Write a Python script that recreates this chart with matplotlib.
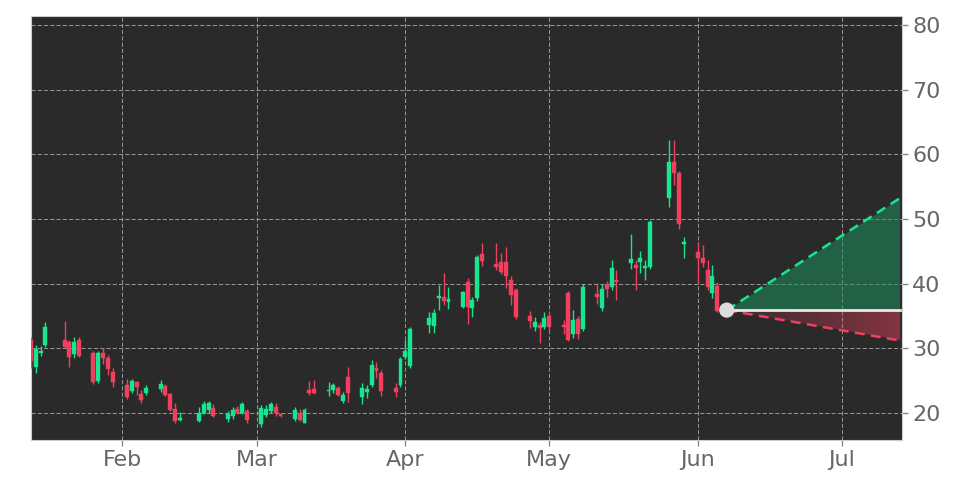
import matplotlib
matplotlib.use("Agg")
import matplotlib.pyplot as plt
import matplotlib.dates as mdates
from matplotlib.patches import Polygon
from matplotlib.colors import to_rgb
import numpy as np
import pandas as pd

dates = ["2015-01-13","2015-01-14","2015-01-15","2015-01-16",
         "2015-01-20","2015-01-21","2015-01-22","2015-01-23",
         "2015-01-26","2015-01-27","2015-01-28","2015-01-29","2015-01-30",
         "2015-02-02","2015-02-03","2015-02-04","2015-02-05","2015-02-06",
         "2015-02-09","2015-02-10","2015-02-11","2015-02-12","2015-02-13",
         "2015-02-17","2015-02-18","2015-02-19","2015-02-20",
         "2015-02-23","2015-02-24","2015-02-25","2015-02-26","2015-02-27",
         "2015-03-02","2015-03-03","2015-03-04","2015-03-05","2015-03-06",
         "2015-03-09","2015-03-10","2015-03-11","2015-03-12","2015-03-13",
         "2015-03-16","2015-03-17","2015-03-18","2015-03-19","2015-03-20",
         "2015-03-23","2015-03-24","2015-03-25","2015-03-26","2015-03-27",
         "2015-03-30","2015-03-31","2015-04-01","2015-04-02",
         "2015-04-06","2015-04-07","2015-04-08","2015-04-09","2015-04-10",
         "2015-04-13","2015-04-14","2015-04-15","2015-04-16","2015-04-17",
         "2015-04-20","2015-04-21","2015-04-22","2015-04-23","2015-04-24",
         "2015-04-27","2015-04-28","2015-04-29","2015-04-30","2015-05-01",
         "2015-05-04","2015-05-05","2015-05-06","2015-05-07","2015-05-08",
         "2015-05-11","2015-05-12","2015-05-13","2015-05-14","2015-05-15",
         "2015-05-18","2015-05-19","2015-05-20","2015-05-21","2015-05-22",
         "2015-05-26","2015-05-27","2015-05-28","2015-05-29",
         "2015-06-01","2015-06-02","2015-06-03","2015-06-04","2015-06-05"]

opens = [31.3,27.1,29.3,30.5, 31.3,31.0,29.1,31.3, 29.3,25.0,29.3,28.5,26.3,
         24.3,23.4,24.8,22.9,23.1, 23.7,24.2,22.9,20.6,18.9, 18.7,20.0,20.4,20.8,
         19.1,19.5,20.6,20.0,20.3, 18.2,19.7,20.3,20.9,19.8, 19.1,20.0,18.5,23.6,23.7,
         23.4,23.6,23.9,21.8,25.6, 22.5,23.3,24.3,27.0,26.2, 23.9,24.3,28.7,27.3,
         33.6,33.4,37.8,37.9,37.2, 36.4,40.2,36.2,37.8,44.6, 43.0,43.3,43.3,40.6,39.0,
         35.0,33.3,33.6,33.3,35.0, 33.6,38.5,32.2,34.5,33.0, 38.4,36.2,39.9,39.5,40.6,
         43.2,42.9,43.4,42.4,42.6, 53.2,58.8,57.1,46.2, 44.9,44.0,42.1,38.5,39.6]
highs = [31.8,30.5,30.3,34.1, 34.2,31.3,31.8,31.8, 29.6,29.6,30.0,29.0,27.0,
         25.3,25.3,25.0,23.5,24.3, 25.1,24.5,23.0,21.5,20.2, 20.9,21.9,21.8,21.3,
         20.3,20.9,21.0,21.7,20.6, 21.2,21.2,21.7,21.5,20.0, 20.9,20.6,20.7,24.9,25.1,
         24.8,24.6,24.1,23.2,27.1, 24.6,24.3,28.2,27.9,26.6, 24.6,28.6,31.3,33.3,
         35.6,36.1,39.8,41.6,39.5, 38.9,40.9,38.0,44.4,46.3, 46.3,44.7,45.7,41.2,39.3,
         35.7,34.8,34.0,35.6,35.6, 34.4,38.8,35.9,35.0,40.0, 40.1,39.9,40.4,43.7,42.1,
         47.7,43.6,45.0,43.6,49.8, 62.2,62.2,57.5,47.2, 46.4,46.0,43.7,42.9,40.2]
lows = [27.0,26.2,28.8,30.2, 30.0,27.1,28.5,28.6, 24.5,24.6,27.5,25.9,24.0,
        22.2,23.0,22.8,21.6,22.7, 23.3,22.6,20.3,18.5,18.8, 18.6,19.8,20.0,19.4,
        18.6,19.0,19.8,19.8,18.5, 17.8,19.3,20.0,19.5,19.3, 18.8,18.7,18.4,22.8,22.9,
        22.6,23.1,22.6,21.5,21.7, 21.4,22.3,24.0,25.4,22.6, 22.5,24.0,28.3,27.0,
        32.4,32.3,35.9,36.7,36.0, 36.2,33.8,34.8,37.3,42.7, 42.1,41.5,39.3,36.7,34.5,
        33.1,32.7,30.8,33.0,32.7, 32.2,31.1,31.6,31.5,32.6, 36.8,35.8,38.0,39.0,37.5,
        42.2,39.0,41.6,40.5,42.3, 51.8,55.2,48.4,44.0, 40.1,42.5,39.0,37.8,35.6]
closes = [28.0,29.9,29.6,33.3, 30.2,28.7,31.0,28.8, 24.8,29.3,28.5,26.8,24.8,
          22.5,25.0,24.0,22.0,23.9, 24.5,22.8,20.5,18.8,19.2, 20.0,21.4,21.5,19.5,
          19.8,20.5,20.0,21.4,18.9, 20.8,20.6,21.4,20.0,19.5, 20.5,18.9,20.5,23.0,23.1,
          23.6,24.3,22.8,22.8,23.1, 23.9,23.7,27.4,26.5,23.4, 23.3,28.3,29.6,33.0,
          34.7,35.5,38.1,37.3,37.6, 38.7,36.4,37.5,44.1,43.5, 42.6,41.8,41.2,38.2,34.8,
          34.2,34.1,33.1,34.7,33.3, 33.3,31.3,34.4,32.2,39.5, 38.0,39.2,39.2,42.4,40.3,
          43.8,42.4,44.0,42.7,49.5, 58.8,57.1,49.2,46.4, 44.0,43.2,39.5,41.2,35.8]

forecast_dates = ["2015-06-07", "2015-07-13"]
forecast_base = [35.9, 35.9]
forecast_upper = [35.9, 53.2]
forecast_lower = [35.9, 31.2]

yticks = [20, 30, 40, 50, 60, 70, 80]

GREEN = "#17e690"
RED = "#f0405e"
BG = "#2a2a2a"

df = pd.DataFrame({"date": pd.to_datetime(dates), "open": opens, "high": highs,
                   "low": lows, "close": closes})
fd = pd.to_datetime(forecast_dates)

fig = plt.figure(figsize=(9.72, 4.86), dpi=100)
fig.patch.set_facecolor("white")
ax = fig.add_axes([0.0319, 0.0947, 0.896, 0.872])
ax.set_facecolor(BG)

x = mdates.date2num(df["date"])
w = 0.82
for xi, o, h, l, c in zip(x, df["open"], df["high"], df["low"], df["close"]):
    col = GREEN if c >= o else RED
    ax.vlines(xi, l, h, color=col, linewidth=1.0, zorder=3)
    bottom = min(o, c)
    height = max(abs(c - o), 0.15)
    ax.bar(xi, height, bottom=bottom, width=w, color=col, edgecolor=col,
           linewidth=0.3, zorder=4)

fx = mdates.date2num(fd)
xlim = (mdates.date2num(pd.Timestamp("2015-01-13")),
        mdates.date2num(pd.Timestamp("2015-07-13 12:00")))
ylim = (15.8, 81.4)

# green area
ax.fill_between(fx, forecast_base, forecast_upper, color="#1f8f60", alpha=0.55,
                linewidth=0, zorder=2)

# red area with horizontal gradient (darker near the start)
r, g, b = to_rgb(RED)
grad = np.zeros((2, 256, 4))
grad[..., 0], grad[..., 1], grad[..., 2] = r, g, b
grad[..., 3] = np.linspace(0.08, 0.45, 256)[None, :]
img = ax.imshow(grad, extent=(fx[0], fx[1], forecast_lower[1], forecast_base[0]),
                aspect="auto", origin="lower", zorder=2, interpolation="bilinear")
poly = Polygon([(fx[0], forecast_base[0]), (fx[1], forecast_base[1]),
                (fx[1], forecast_lower[1])], closed=True, facecolor="none",
               edgecolor="none", transform=ax.transData)
ax.add_patch(poly)
img.set_clip_path(poly)

ax.plot(fx, forecast_upper, color=GREEN, linestyle=(0, (4, 2.5)), linewidth=1.8, zorder=5)
ax.plot(fx, forecast_lower, color=RED, linestyle=(0, (4, 2.5)), linewidth=1.8, zorder=5)
ax.plot(fx, forecast_base, color="#e8e8e8", linewidth=2.0, zorder=5)
ax.scatter([fx[0]], [forecast_base[0]], s=120, color="#dcdcdc", zorder=6,
           edgecolors="none")

ax.set_xlim(*xlim)
ax.set_ylim(*ylim)
ax.set_yticks(yticks)
ax.yaxis.tick_right()
ax.xaxis.set_major_locator(mdates.MonthLocator())
ax.xaxis.set_major_formatter(mdates.DateFormatter("%b"))

ax.grid(True, color="#a8a8a8", linestyle=(0, (4, 2)), linewidth=0.75, alpha=0.85)
ax.set_axisbelow(True)
ax.tick_params(axis="both", colors="#888888", labelcolor="#666666",
               labelsize=16, length=4, width=1)
for s in ax.spines.values():
    s.set_color("#cccccc")
    s.set_linewidth(0.8)

fig.savefig("out.png", dpi=100, facecolor=fig.get_facecolor())
